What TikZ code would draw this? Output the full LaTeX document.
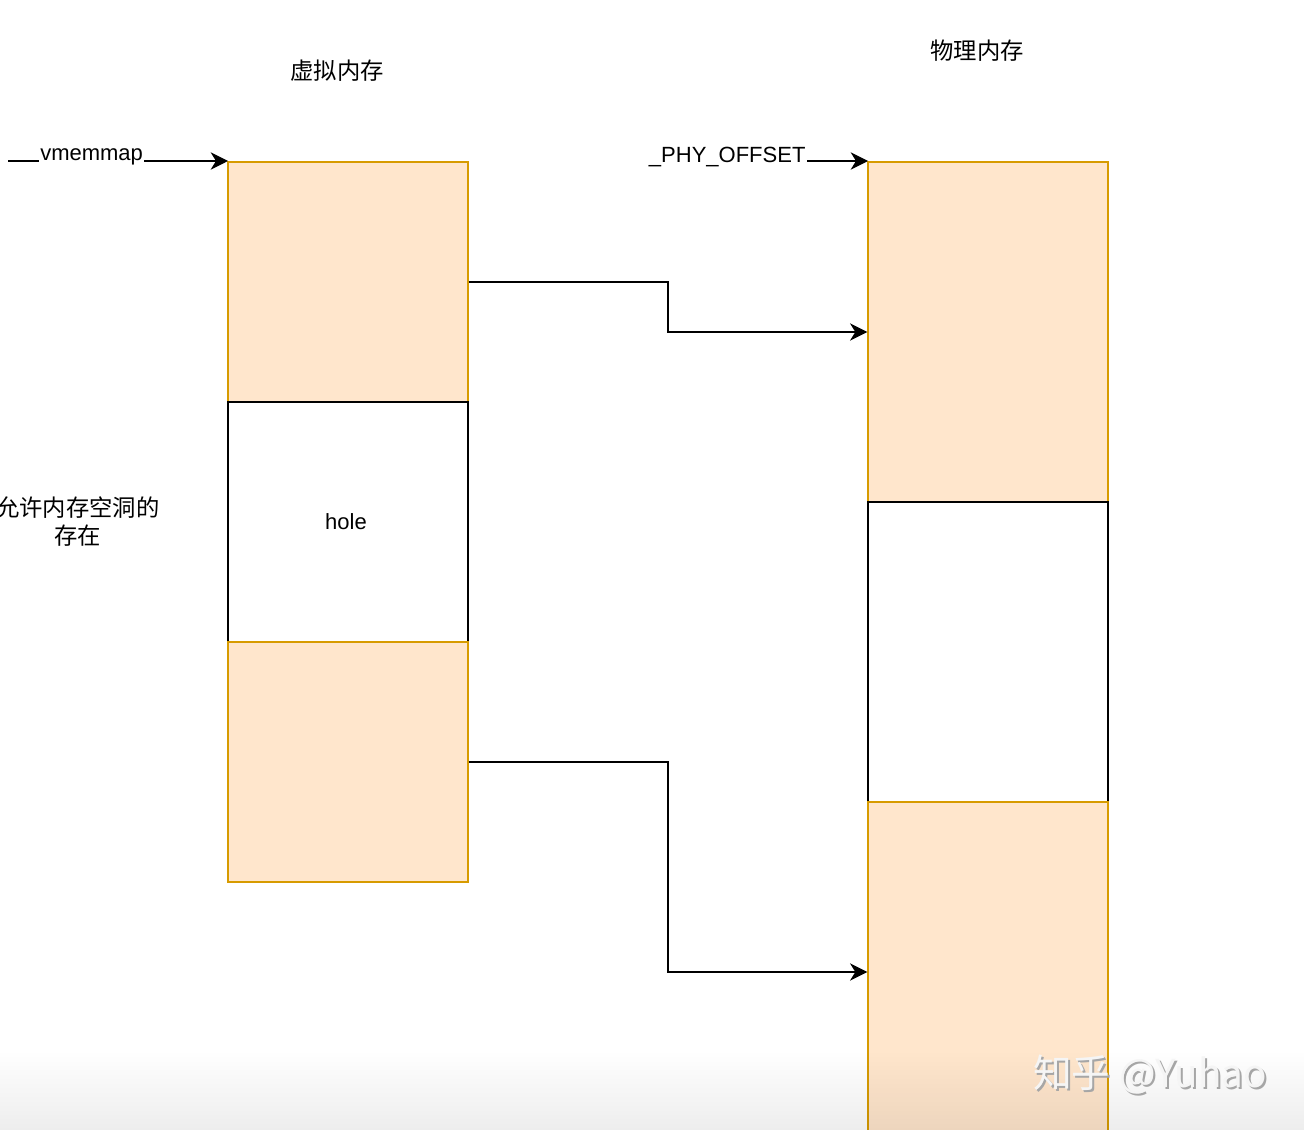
\documentclass[tikz,border=0pt]{standalone}
\usepackage{fontspec}
\setmainfont{Liberation Sans}
\newfontfamily\cjk{Noto Sans CJK SC}
\usetikzlibrary{arrows.meta,fadings}
\definecolor{boxfill}{HTML}{FFE6CC}
\definecolor{boxline}{HTML}{D79B00}
\tikzset{
  membox/.style={draw=boxline, fill=boxfill, line width=1pt, minimum width=180pt, inner sep=0pt},
  holebox/.style={draw=black, fill=white, line width=1pt, minimum width=180pt, inner sep=0pt},
  conn/.style={draw=black, line width=1pt, -{Stealth[length=13pt,width=13pt,inset=4pt]}},
  lbl/.style={font=\fontsize{16.5}{20}\selectfont, inner sep=0pt},
  cjklbl/.style={font=\cjk\fontsize{17.5}{21}\selectfont, inner sep=0pt, align=center},
  edgelbl/.style={font=\fontsize{16.5}{20}\selectfont, fill=white, inner sep=1pt, yshift=3pt},
}
\begin{document}
\begin{tikzpicture}[x=0.75pt,y=-0.75pt]
\useasboundingbox (0,0) rectangle (1304,1130);
\begin{scope}
\clip (0,0) rectangle (1304,1130);
% virtual memory column
\node[membox, minimum height=180pt] (v1) at (348,282) {};
\node[holebox, minimum height=180pt] (v2) at (348,522) {};
\node[membox, minimum height=180pt] (v3) at (348,762) {};
\node[lbl] (hole) at (346,522) {hole};
% physical memory column
\node[membox, minimum height=255pt] (r1) at (988,332) {};
\node[holebox, minimum height=225pt] (r2) at (988,652) {};
\node[membox, minimum height=255pt] (r3) at (988,972) {};
% titles
\node[cjklbl] (vt) at (337,71) {虚拟内存};
\node[cjklbl] (pt) at (977,51) {物理内存};
\node[cjklbl] (note) at (78,522) {允许内存空洞的\\存在};
% pointer arrows
\coordinate (vmstart) at (8,161);
\coordinate (phstart) at (648,161);
\coordinate (vmend) at (228,161);
\coordinate (phend) at (868,161);
\draw[conn] (vmstart) -- (vmend) node[edgelbl, pos=0.38] (vml) {vmemmap};
\draw[conn] (phstart) -- (phend) node[edgelbl, pos=0.36] (phl) {\_PHY\_OFFSET};
% mapping connectors
\coordinate (b1) at (668,282);
\coordinate (b2) at (668,762);
\draw[conn] (v1.east) -- (b1) |- (r1.west);
\draw[conn] (v3.east) -- (b2) |- (r3.west);
% bottom shadow
\fill[black, opacity=0.07, path fading=north] (0,1050) rectangle (1304,1130);
% watermark
\node[font=\cjk\fontsize{29}{32}\selectfont, text=gray!70, inner sep=0pt] at (1152,1077) {知乎 @Yuhao};
\node[font=\cjk\fontsize{29}{32}\selectfont, text=white!92!gray, inner sep=0pt] at (1150,1075) {知乎 @Yuhao};
\end{scope}
\end{tikzpicture}
\end{document}
